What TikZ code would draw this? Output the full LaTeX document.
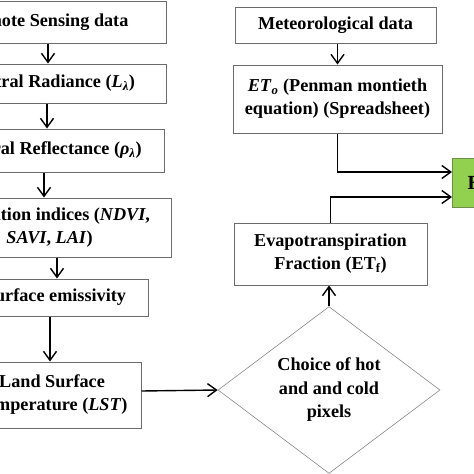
\documentclass[tikz,border=0pt]{standalone}
\usepackage{fontspec}
\setmainfont{Liberation Serif}
\usetikzlibrary{arrows.meta,shapes.geometric}
\definecolor{boxline}{HTML}{6B6B6B}
\definecolor{greenfill}{HTML}{92D050}
\definecolor{greenline}{HTML}{6E8E4A}
\tikzset{
  flowbox/.style={draw=boxline, line width=1pt, fill=white, align=center, inner sep=0pt,
    font=\bfseries\fontsize{18.2}{23}\selectfont},
  decision/.style={draw=boxline!80, line width=0.6pt, shape=diamond, inner sep=0pt, align=center,
    font=\bfseries\fontsize{18.2}{23.5}\selectfont},
  flowarrow/.style={line width=1.4pt, -{Straight Barb[length=9pt,width=13pt,line width=1.4pt]}},
  resultbox/.style={draw=greenline, line width=1pt, fill=greenfill, align=left, anchor=west,
    text width=60pt, inner xsep=15pt, inner ysep=0pt, minimum height=49pt,
    font=\bfseries\fontsize{20}{24}\selectfont}
}
\begin{document}
\begin{tikzpicture}[x=1pt,y=-1pt]
\useasboundingbox (0,0) rectangle (474,474);
\clip (0,0) rectangle (474,474);
\fill[white] (0,0) rectangle (474,474);
% left column
\node[flowbox, minimum width=238pt, minimum height=42pt] (b1) at (47,22) {Remote Sensing data};
\node[flowbox, minimum width=238pt, minimum height=39pt] (b2) at (47,83.5) {Spectral Radiance (\textit{L}\textsubscript{\textit{λ}})};
\node[flowbox, minimum width=236pt, minimum height=43pt] (b3) at (46,150.5) {Spectral Reflectance (\textit{ρ}\textsubscript{\textit{λ}})};
\node[flowbox, minimum width=243pt, minimum height=59pt] (b4) at (49.5,227.5) {Vegetation indices (\textit{NDVI},\\\textit{SAVI}, \textit{LAI})};
\node[flowbox, minimum width=228pt, minimum height=37pt] (b5) at (34,297.5) {Land surface emissivity};
\node[flowbox, minimum width=178pt, minimum height=66pt] (b6) at (52,395) {Land Surface\\Temperature (\textit{LST})};
% right column
\node[flowbox, minimum width=201pt, minimum height=36pt] (met) at (335.5,25) {Meteorological data};
\node[flowbox, minimum width=209pt, minimum height=68pt] (eto) at (337.5,99) {\textit{ET}\textsubscript{\textit{o}} (Penman montieth\\equation) (Spreadsheet)};
\node[flowbox, minimum width=193pt, minimum height=62pt] (etf) at (330.5,254) {Evapotranspiration\\Fraction (ET\textsubscript{f})};
\node[decision, minimum width=222pt, minimum height=166pt] (dia) at (329,390) {Choice of hot\\and and cold\\pixels};
\node[resultbox] (res) at (452,182.5) {ET};
% connectors
\draw[flowarrow] ([xshift=1pt]b1.south) -- ([xshift=1pt]b1.south |- b2.north);
\draw[flowarrow] (b2.south) -- (b2.south |- b3.north);
\draw[flowarrow] ([xshift=-2pt]b3.south) -- ([xshift=-2pt]b3.south |- b4.north);
\draw[flowarrow] ([xshift=7.5pt]b4.south) -- ([xshift=7.5pt]b4.south |- b5.north);
\draw[flowarrow] ([xshift=16pt]b5.south) -- ([xshift=16pt]b5.south |- b6.north);
\draw[flowarrow] ([yshift=4pt]b6.east) -- (dia.west);
\draw[flowarrow] (dia.north) -- (dia.north |- etf.south);
\draw[flowarrow] (met.south -| eto.north) -- (eto.north);
\draw[flowarrow] (eto.south) |- ([yshift=10.5pt]res.west);
\draw[flowarrow] (etf.north) |- ([yshift=-14.5pt]res.west);
\end{tikzpicture}
\end{document}
